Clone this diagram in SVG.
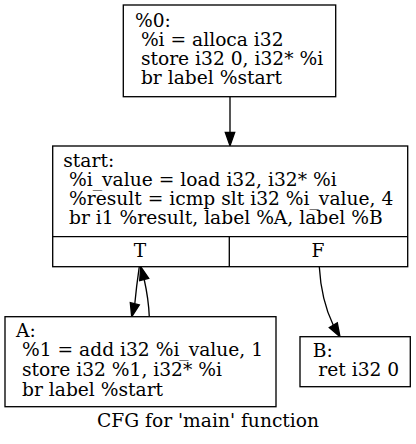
<svg xmlns="http://www.w3.org/2000/svg" width="416" height="444" viewBox="0 0 416 444">
<style>
  .box { fill: #ffffff; stroke: #000000; stroke-width: 1.33; }
  .ln { fill: none; stroke: #000000; stroke-width: 1.33; }
  .edge { fill: none; stroke: #000000; stroke-width: 1.33; }
  .head { fill: #000000; stroke: #000000; stroke-width: 1.33; }
  text { font-family: "DejaVu Serif", "Liberation Serif", serif; font-size: 18.67px; fill: #000000; }
  .c { text-anchor: middle; }
</style>
<rect x="0" y="0" width="416" height="444" fill="#ffffff"/>
<g id="connectors">
  <path class="edge" d="M230,96.7 L230,132.4"/>
  <polygon class="head" points="225.3,132.4 234.7,132.4 230,145.7"/>
  <path class="edge" d="M139.3,266.7 C137.5,279 136,291 134.8,303.8"/>
  <polygon class="head" points="139.3,304.9 130.3,302.7 131.7,316.7"/>
  <path class="edge" d="M149.3,316.7 C148.8,305 147,292 144.2,279.5"/>
  <polygon class="head" points="148.7,278.3 139.7,280.7 140.7,266.7"/>
  <path class="edge" d="M319.3,266.7 C320.5,288 325,308 333.3,325.2"/>
  <polygon class="head" points="337.3,322.9 329.3,327.5 340,336.7"/>
</g>
<g id="node0">
  <rect class="box" x="123.3" y="5" width="212.4" height="91.7"/>
  <text x="135" y="26.8">%0:</text>
  <text x="140.9" y="45.8">%i = alloca i32</text>
  <text x="140.9" y="64.8">store i32 0, i32* %i</text>
  <text x="140.9" y="83.8">br label %start</text>
</g>
<g id="start">
  <rect class="box" x="52.7" y="146" width="355" height="120.7"/>
  <line class="ln" x1="52.7" y1="236.7" x2="407.7" y2="236.7"/>
  <line class="ln" x1="229.3" y1="236.7" x2="229.3" y2="266.7"/>
  <text x="63.3" y="166.6">start:</text>
  <text x="69" y="185.7">%i_value = load i32, i32* %i</text>
  <text x="69" y="204.8">%result = icmp slt i32 %i_value, 4</text>
  <text x="69" y="223.9">br i1 %result, label %A, label %B</text>
  <text class="c" x="140" y="257">T</text>
  <text class="c" x="318" y="257">F</text>
</g>
<g id="A">
  <rect class="box" x="5" y="316.7" width="271" height="90"/>
  <text x="16" y="336.8">A:</text>
  <text x="22" y="356.4">%1 = add i32 %i_value, 1</text>
  <text x="22" y="376">store i32 %1, i32* %i</text>
  <text x="22" y="395.6">br label %start</text>
</g>
<g id="B">
  <rect class="box" x="300" y="336.7" width="110.3" height="50"/>
  <text x="312.7" y="356.6">B:</text>
  <text x="318.3" y="376.4">ret i32 0</text>
</g>
<text class="c" x="208" y="427.3">CFG for 'main' function</text>
</svg>
